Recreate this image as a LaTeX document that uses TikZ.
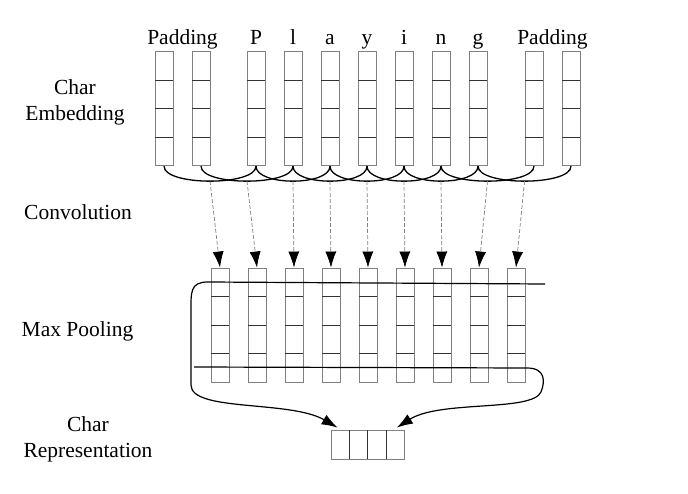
\documentclass[tikz,border=0pt]{standalone}
\usepackage{fontspec}
\setmainfont{Liberation Serif}
\usetikzlibrary{arrows.meta}

\begin{document}
\begin{tikzpicture}[x=1pt,y=-1pt,
        col/.style={draw=gray,line width=0.9pt,minimum width=18pt,minimum height=114pt,inner sep=0pt},
        cellline/.style={draw=black!80,line width=0.7pt},
        lbl/.style={font=\fontsize{21.5}{25.5}\selectfont,align=center,inner sep=0pt},
        win/.style={line width=1.3pt},
        feed/.style={draw=gray,line width=0.7pt,dash pattern=on 4pt off 2pt,-{Latex[length=16pt,width=11pt,color=black]}},
        pool/.style={line width=1.2pt,-{Latex[length=16pt,width=11pt]}}]
                \useasboundingbox (0,0) rectangle (688,494);
                \def\h{114};
                \def\c{28.5};
                % embedding columns
                \foreach \x [count=\i] in {164,201,256,293,330,367,404,441,478,534,571}{
                    \node[col] (e\i) at (\x,108.7) {};
                    \foreach \k in {1,2,3}
                        \draw[cellline] (\x - 9,108.7 - \h / 2 + \k * \c) -- (\x + 9,108.7 - \h / 2 + \k * \c);}
                \foreach \x/\t [count=\i] in {182.5/Padding,256/P,293/l,330/a,367/y,404/i,441/n,478/g,552.5/Padding}
                    \node[lbl,anchor=base] (t\i) at (\x,45) {\t};
                % convolution columns
                \foreach \x [count=\i] in {220,257,...,516}{
                    \node[col] (c\i) at (\x,325) {};
                    \foreach \k in {1,2,3}
                        \draw[cellline] (\x - 9,325 - \h / 2 + \k * \c) -- (\x + 9,325 - \h / 2 + \k * \c);}
                % windows of three
                \foreach \i [evaluate=\i as \j using int(\i + 2)] in {1,...,9}{
                    \draw[win] (e\i.south) .. controls +(0,20) and +(0,20) .. (e\j.south) coordinate[pos=0.5] (w\i);
                    \draw[feed] (w\i) -- (c\i.north);}
                % char representation
                \node[draw=gray,line width=0.9pt,minimum width=73.3pt,minimum height=29.3pt,inner sep=0pt] (rep) at (367.7,444.7) {};
                \foreach \k in {1,2,3}
                    \draw[cellline] (331 + \k * 18.33,430) -- (331 + \k * 18.33,459.3);
                % max pooling
                \coordinate (u1) at (545,284);
                \coordinate (u2) at (208,282);
                \coordinate (l1) at (194,367);
                \coordinate (l2) at (527,368);
                \draw[pool] (u1) -- (u2) .. controls (190,282) and (191,292) .. (191,312) -- (191,385)
                    .. controls (191,412) and (290,400) .. ([xshift=7pt,yshift=2pt]rep.north west);
                \draw[pool] (l1) -- (l2) .. controls (546,368) and (545,382) .. (541,392)
                    .. controls (532,412) and (440,400) .. ([xshift=-8pt,yshift=2pt]rep.north east);
                % stage labels
                \node[lbl] (emb) at (75,102.4) {Char\\Embedding};
                \node[lbl,anchor=base] (conv) at (78,220) {Convolution};
                \node[lbl,anchor=base] (maxp) at (77.5,336) {Max Pooling};
                \node[lbl] (crep) at (88,439.5) {Char\\Representation};
            \end{tikzpicture}
\end{document}
